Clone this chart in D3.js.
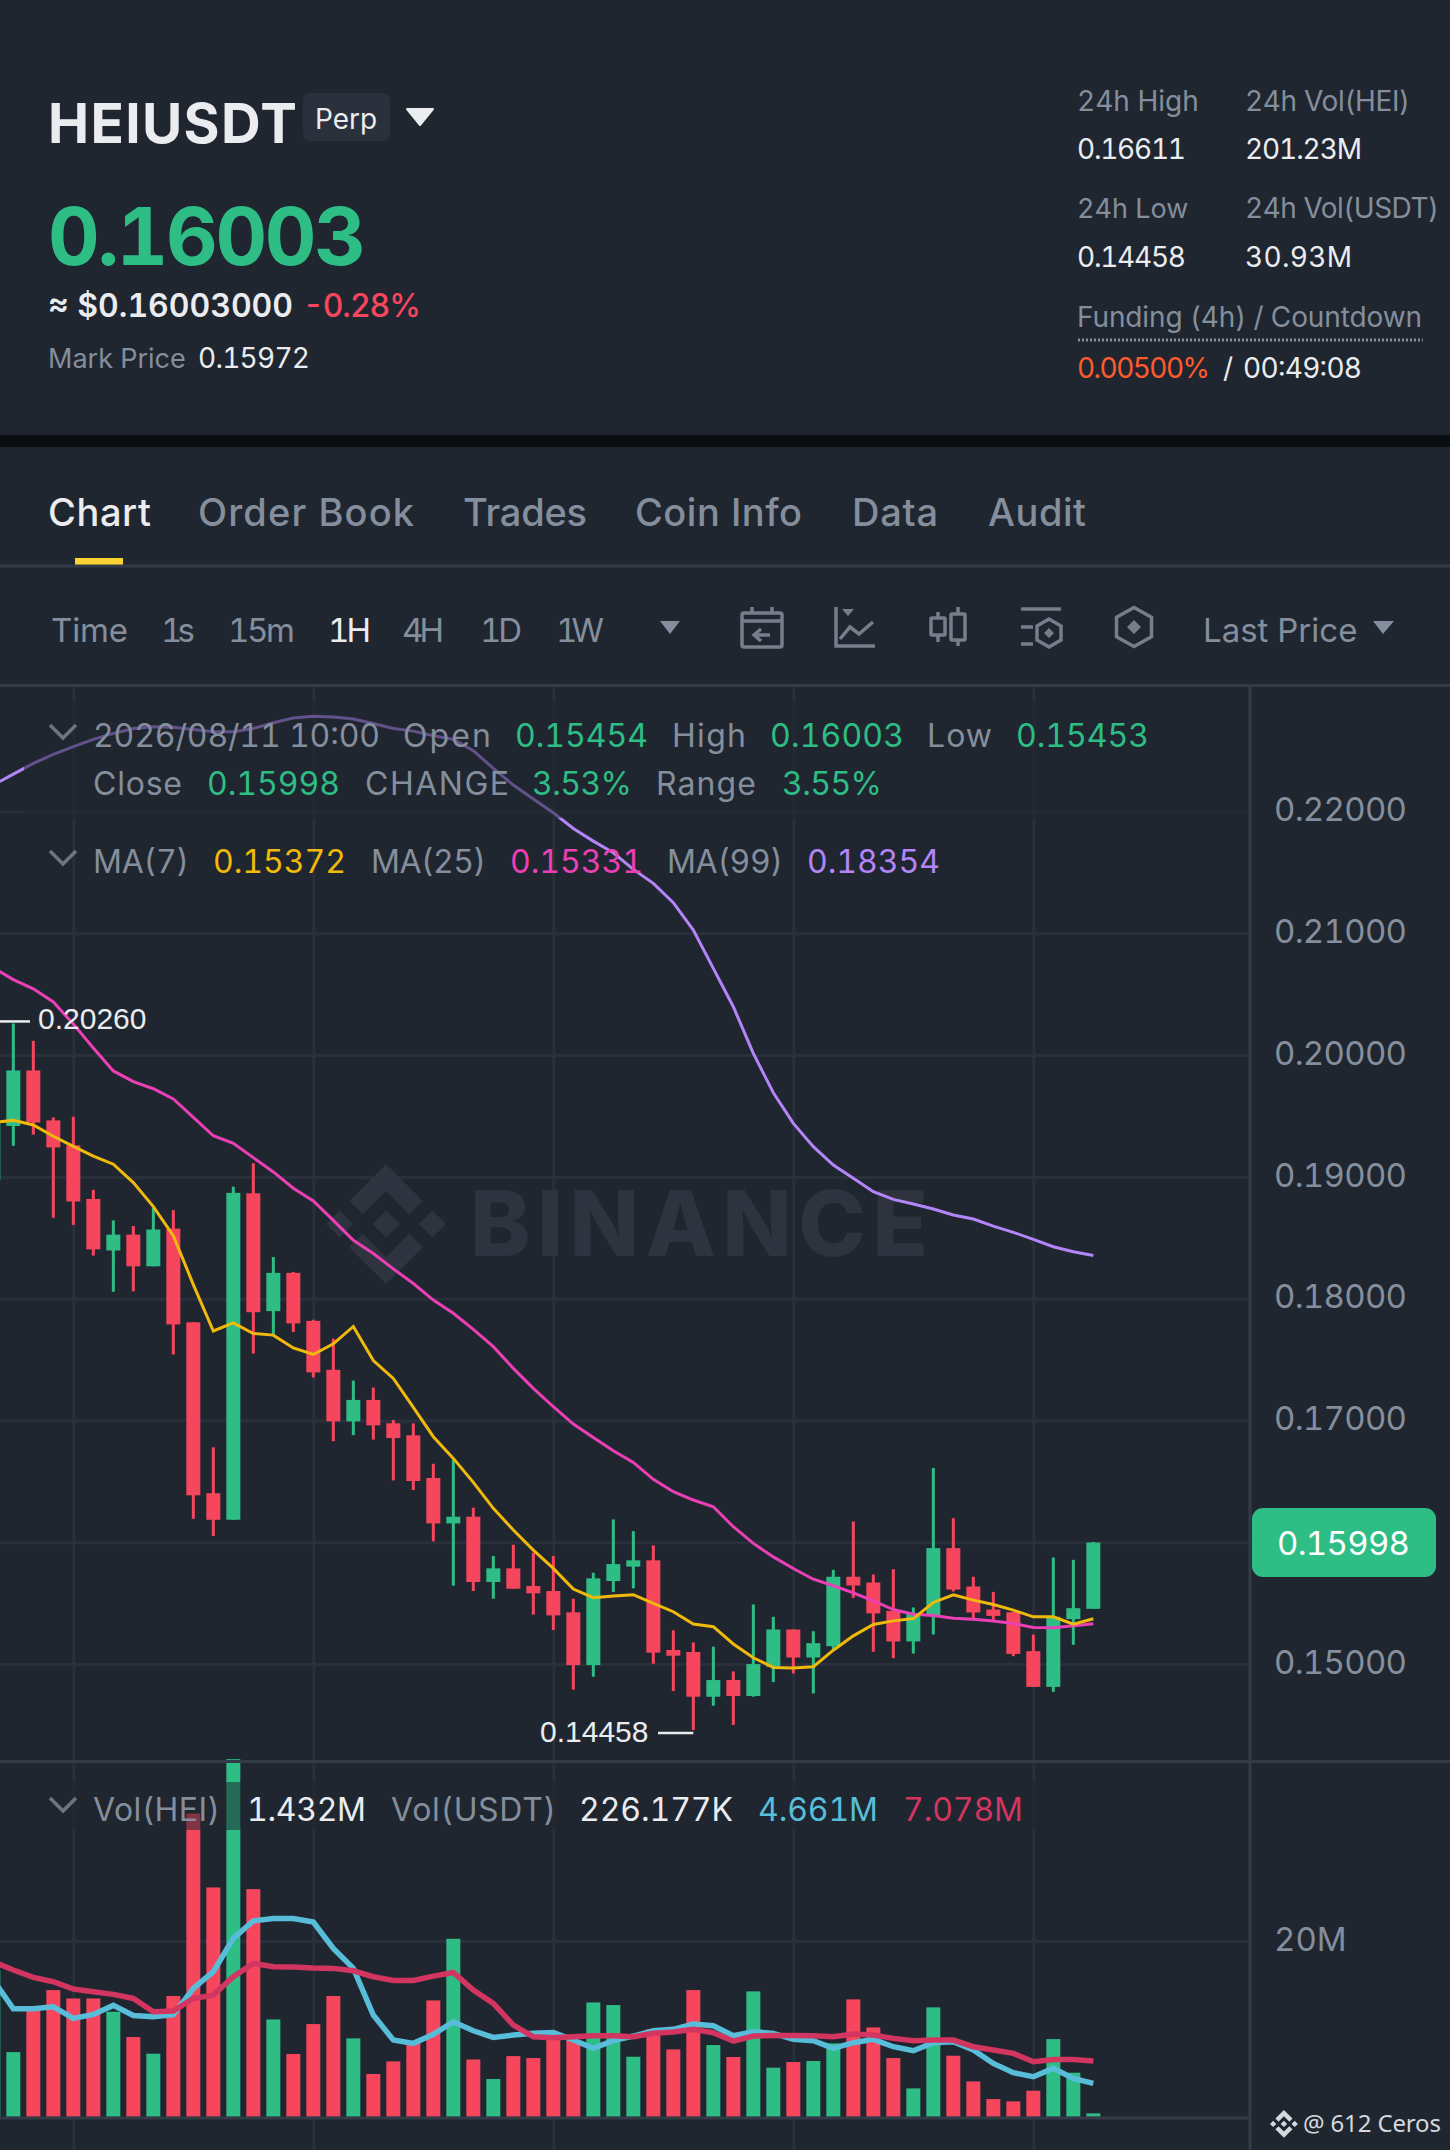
<!DOCTYPE html>
<html>
<head>
<meta charset="utf-8">
<script src="https://cdn.jsdelivr.net/npm/d3@7"></script>
<style>
  html, body { margin: 0; padding: 0; background: #1f2630; }
  svg { display: block; }
  text { font-family: Inter, "Noto Sans", sans-serif; font-variant-numeric: tabular-nums; }
</style>
</head>
<body>
<svg width="1450" height="2150"></svg>
<script>
// candles, left to right (first one is cut off by the left edge)
var opens = [0.1897,0.19418,0.19874,0.19464,0.19259,0.18819,0.18396,0.18526,0.18266,0.18576,0.17806,0.16403,0.16185,0.18865,0.17898,0.18212,0.17818,0.17416,0.16993,0.17169,0.16977,0.16878,0.16528,0.16155,0.1621,0.15674,0.15786,0.15641,0.156,0.15425,0.14992,0.15682,0.158,0.15852,0.15116,0.15099,0.14732,0.14869,0.14738,0.14978,0.15284,0.15054,0.15147,0.15717,0.1567,0.15437,0.15186,0.15402,0.15952,0.15637,0.15448,0.15426,0.15106,0.14813,0.15369,0.15454];
var highs = [0.1944,0.2026,0.20117,0.19489,0.19493,0.18894,0.18643,0.18597,0.18748,0.18727,0.17806,0.1678,0.1892,0.19112,0.18342,0.1822,0.17827,0.17672,0.17328,0.1727,0.17004,0.16976,0.16645,0.16675,0.16284,0.15887,0.1598,0.15915,0.15887,0.15537,0.1575,0.16188,0.16092,0.15975,0.15277,0.15178,0.15143,0.1494,0.1549,0.15388,0.15284,0.1527,0.15774,0.16171,0.15736,0.15779,0.15465,0.16611,0.16198,0.15717,0.15593,0.15429,0.15243,0.15875,0.15856,0.16003];
var lows = [0.1897,0.19255,0.19347,0.18664,0.18606,0.18354,0.18057,0.18061,0.18266,0.17542,0.16193,0.16051,0.16185,0.1755,0.17701,0.17726,0.17353,0.1683,0.1688,0.16843,0.16508,0.16429,0.16008,0.15644,0.156,0.15537,0.15619,0.15406,0.1528,0.1479,0.14896,0.15592,0.15622,0.15003,0.14779,0.14458,0.14658,0.145,0.14732,0.14852,0.14923,0.14759,0.15115,0.15544,0.15101,0.15049,0.15087,0.15243,0.15596,0.15361,0.15361,0.15065,0.14813,0.14772,0.15158,0.15453];
var closes = [0.1944,0.19874,0.19447,0.19242,0.18798,0.18405,0.18526,0.18266,0.18568,0.17789,0.16386,0.16185,0.18869,0.17889,0.18212,0.17797,0.17395,0.16993,0.17169,0.1696,0.16856,0.16503,0.16155,0.1621,0.15674,0.15786,0.15619,0.15581,0.154,0.14992,0.15704,0.15821,0.15852,0.15094,0.15069,0.14732,0.14869,0.14738,0.15,0.15284,0.15054,0.15172,0.15717,0.15645,0.15416,0.15186,0.15416,0.15952,0.15612,0.15424,0.15396,0.15084,0.14813,0.15388,0.15459,0.15998];

var ma7 = [0.19447,0.19464,0.19426,0.19334,0.1925,0.19171,0.19104,0.18953,0.18756,0.18518,0.18116,0.17735,0.17802,0.17714,0.17701,0.17596,0.17542,0.1763,0.17772,0.17492,0.17345,0.17108,0.16867,0.16689,0.16492,0.16279,0.16101,0.15936,0.15786,0.15616,0.15545,0.15559,0.1557,0.15499,0.1543,0.15329,0.15307,0.15165,0.15052,0.14973,0.14967,0.14978,0.15114,0.15232,0.15325,0.15355,0.15374,0.15506,0.15569,0.15525,0.15489,0.15443,0.15388,0.15388,0.15328,0.15372];
var ma25 = [0.20716,0.2062,0.20544,0.20436,0.20255,0.20059,0.1987,0.19782,0.19724,0.1964,0.19489,0.19338,0.19276,0.19158,0.19041,0.18907,0.18802,0.18643,0.1848,0.18371,0.18245,0.18125,0.17989,0.1788,0.17748,0.17606,0.17428,0.17264,0.17113,0.16971,0.16861,0.16752,0.16656,0.16517,0.16415,0.16347,0.16292,0.16128,0.15991,0.1588,0.15785,0.15697,0.15643,0.15585,0.1552,0.15448,0.1541,0.15399,0.15377,0.15369,0.15353,0.15333,0.15301,0.15298,0.15314,0.15331];
var ma99 = [0.22217,0.22307,0.22395,0.22469,0.22532,0.22592,0.22641,0.22682,0.22696,0.22691,0.22674,0.22655,0.22655,0.22682,0.22729,0.22767,0.22781,0.22775,0.22759,0.22723,0.22682,0.2266,0.22622,0.22592,0.22499,0.22354,0.22217,0.22102,0.2199,0.21861,0.21757,0.21661,0.21525,0.2141,0.21251,0.21026,0.20712,0.20397,0.20014,0.19691,0.19439,0.19248,0.19097,0.18988,0.18878,0.18815,0.18777,0.18736,0.18687,0.18654,0.18596,0.18545,0.18487,0.18427,0.18386,0.18354];

// volume in millions
var volumes = [16.87,8.03,12.56,14.71,13.81,13.81,12.38,9.65,7.86,14.07,33.74,25.77,39.59,25.59,11.55,7.82,11.05,14.07,9.51,5.67,7.03,9.15,13.6,20.24,7.24,5.13,7.6,7.39,9.69,9.33,13.38,13.1,7.53,10.48,8.32,14.71,8.79,7.5,14.57,6.35,6.96,7.07,8.97,13.71,10.69,7.39,4.12,12.85,7.64,4.87,2.97,2.72,3.87,9.43,5.81,1.43];
var volMa5 = [15.79,12.7,12.7,12.92,11.66,12.09,13.06,11.98,11.84,12.06,14.89,16.69,20.28,22.18,22.43,22.43,22.04,19.2,17.05,12.02,9.33,8.97,9.94,11.3,10.33,9.61,9.87,10.05,10.15,9.33,8.43,9.26,9.76,10.33,10.48,11.05,10.87,9.79,10.22,10.05,9.4,9.26,8.43,9.04,9.4,8.61,8.18,9.04,9.15,8.25,6.81,5.81,5.38,6.28,5.2,4.66];
var volMa10 = [17.76,16.87,16.08,15.61,14.82,14.53,14.25,13.81,12.38,12.45,13.81,14.17,16.15,17.58,17.22,17.19,17.08,17.05,16.79,16.15,15.75,15.75,16.22,16.61,14.71,13.28,10.94,9.69,9.58,9.69,9.79,9.79,9.69,10.05,10.19,10.48,10.12,9.22,9.76,9.83,9.83,9.79,9.69,9.97,9.87,9.51,9.26,9.33,9.33,8.61,8.25,7.89,6.99,7.24,7.24,7.08];

var priceTicks = [0.22, 0.21, 0.20, 0.19, 0.18, 0.17, 0.16, 0.15];
var volTicks = [20];
var timeTicks = [4, 16, 28, 40, 52];
var lastPrice = 0.15998;
var highMark = 0.2026, highIndex = 1;
var lowMark = 0.14458, lowIndex = 35;

var tabs = ["Chart", "Order Book", "Trades", "Coin Info", "Data", "Audit"];
var intervals = ["Time", "1s", "15m", "1H", "4H", "1D", "1W"];

var GREEN = "#2ebd85", RED = "#f6465d", GREY = "#848e9c", WHITE = "#eaecef",
    BG = "#1f2630", GRID = "#2a303b", RULE = "#343b48", ICON = "#777e8b",
    YELLOW = "#f0b90b", PINK = "#eb40b5", PURPLE = "#b385f8", BLUE = "#58bdd8", CRIMSON = "#d2355f";

var svg = d3.select("svg");
var N = opens.length;

svg.append("rect").attr("width", 1450).attr("height", 2150).attr("fill", BG);

var x = d3.scaleLinear().domain([0, N - 1]).range([-6.67, 1093.33]);
var y = d3.scaleLinear().domain([0.15, 0.22]).range([1664.1, 811.5]);
var yVol = d3.scaleLinear().domain([1.07, 20]).range([2116.7, 1941]);

// width, when given, stretches the text to what the picture shows
function label(g, tx, ty, str, size, fill, weight, width) {
    var t = g.append("text").attr("x", tx).attr("y", ty).attr("font-size", size)
        .attr("fill", fill).attr("font-weight", weight || 400).text(str);
    if (width) t.attr("textLength", width).attr("lengthAdjust", "spacing");
    return t;
}

// header
var head = svg.append("g");
label(head, 48, 143, "HEIUSDT", 55, WHITE, 700, 249);
head.append("rect").attr("x", 303).attr("y", 93).attr("width", 87).attr("height", 48).attr("rx", 7).attr("fill", "#2b313c");
label(head, 315, 129, "Perp", 28, WHITE);
head.append("path").attr("d", "M407,109 L433,109 L420,125 Z").attr("fill", WHITE).attr("stroke", WHITE).attr("stroke-linejoin", "round").attr("stroke-width", 2);
label(head, 48, 265, "0.16003", 80, GREEN, 700, 318);
label(head, 48, 317, "≈ $0.16003000", 32, WHITE, 600, 245);
label(head, 303, 317, "-0.28%", 32, RED, 500, 118);
label(head, 48, 368, "Mark Price", 27, GREY);
label(head, 198, 368, "0.15972", 28, WHITE, 400, 112);

label(head, 1077, 111, "24h High", 28, GREY);
label(head, 1245, 111, "24h Vol(HEI)", 28, GREY, 400, 165);
label(head, 1077, 159, "0.16611", 28, WHITE, 400, 109);
label(head, 1245, 159, "201.23M", 28, WHITE, 400, 117);
label(head, 1077, 218, "24h Low", 27, GREY);
label(head, 1245, 218, "24h Vol(USDT)", 28, GREY, 400, 194);
label(head, 1077, 267, "0.14458", 28, WHITE, 400, 109);
label(head, 1245, 267, "30.93M", 28, WHITE, 400, 107);
label(head, 1077, 327, "Funding (4h) / Countdown", 28, GREY, 400, 345);
head.append("line").attr("x1", 1078).attr("x2", 1423).attr("y1", 340).attr("y2", 340)
    .attr("stroke", GREY).attr("stroke-width", 3).attr("stroke-dasharray", "2 2");
label(head, 1077, 378, "0.00500%", 28, "#ff5a2c", 400, 133);
label(head, 1223, 378, "/", 28, WHITE);
label(head, 1243, 378, "00:49:08", 28, WHITE, 400, 119);

svg.append("rect").attr("x", 0).attr("y", 435).attr("width", 1450).attr("height", 12).attr("fill", "#0b0e11");

// tabs
var tabX = [48, 198, 463, 635, 852, 988];
var tabW = [103, 216, 124, 167, 86, 98];
svg.append("g").selectAll("text").data(tabs).join("text")
    .attr("x", (d, i) => tabX[i]).attr("y", 526).attr("font-size", 38).attr("font-weight", 500)
    .attr("textLength", (d, i) => tabW[i]).attr("lengthAdjust", "spacing")
    .attr("fill", (d, i) => i == 0 ? WHITE : GREY).text(d => d);
svg.append("rect").attr("x", 75).attr("y", 558).attr("width", 48).attr("height", 8).attr("fill", "#fcd535");
svg.append("line").attr("x1", 0).attr("x2", 1450).attr("y1", 566).attr("y2", 566).attr("stroke", RULE).attr("stroke-width", 3);

// interval row
var intX = [51, 161, 228, 328, 402, 480, 556];
var intW = [77, 34, 67, 43, 42, 42, 48];
svg.append("g").selectAll("text").data(intervals).join("text")
    .attr("x", (d, i) => intX[i]).attr("y", 642).attr("font-size", 33)
    .attr("textLength", (d, i) => intW[i]).attr("lengthAdjust", "spacing")
    .attr("fill", d => d == "1H" ? WHITE : GREY).text(d => d);
label(svg, 1203, 642, "Last Price", 33, GREY);
svg.append("path").attr("d", "M660,621 L680,621 L670,634 Z M1373,621 L1394,621 L1383,634 Z").attr("fill", GREY);

// toolbar icons
var icons = svg.append("g").attr("fill", "none").attr("stroke", ICON).attr("stroke-width", 3.5);
icons.append("rect").attr("x", 742).attr("y", 613).attr("width", 40).attr("height", 34).attr("rx", 2);
icons.append("path").attr("d", "M742,621 H782 M752,607 V613 M772,607 V613 M770,635 H755 M761,629 L754,635 L761,641");
icons.append("path").attr("d", "M836,607 V646 H875 M840,639 L850,627 L859,634 L873,622");
icons.append("path").attr("d", "M842,609 H854 L848,616 Z").attr("fill", ICON).attr("stroke", "none");
icons.append("rect").attr("x", 931).attr("y", 618).attr("width", 14).attr("height", 17).attr("rx", 1);
icons.append("rect").attr("x", 951).attr("y", 614).attr("width", 14).attr("height", 26).attr("rx", 1);
icons.append("path").attr("d", "M938,612 V618 M938,635 V642 M958,607 V614 M958,640 V646");
icons.append("path").attr("d", "M1021,609 H1061 M1021,627 H1033 M1021,644 H1033");
function hex(cx, cy, w, r) {
    return [[0, -r], [w, -r / 2], [w, r / 2], [0, r], [-w, r / 2], [-w, -r / 2]]
        .map(p => (cx + p[0]) + "," + (cy + p[1])).join(" ");
}
icons.append("polygon").attr("points", hex(1049, 633, 12, 14));
icons.append("polygon").attr("points", hex(1134, 627, 17.5, 19.5));
icons.append("path").attr("fill", ICON).attr("stroke", "none")
    .attr("d", "M1049,628 l5,5 l-5,5 l-5,-5 Z M1134,620 l7,7 l-7,7 l-7,-7 Z");

svg.append("line").attr("x1", 0).attr("x2", 1450).attr("y1", 685.5).attr("y2", 685.5).attr("stroke", RULE).attr("stroke-width", 3);

// grid
var grid = svg.append("g");
grid.append("g").attr("transform", "translate(0,687)")
    .call(d3.axisBottom(x).tickValues(timeTicks).tickSize(1463).tickFormat(""));
grid.append("g").attr("transform", "translate(1250,0)")
    .call(d3.axisLeft(y).tickValues(priceTicks).tickSize(1250).tickFormat(""));
grid.append("g").attr("transform", "translate(1250,0)")
    .call(d3.axisLeft(yVol).tickValues(volTicks).tickSize(1250).tickFormat(""));
grid.selectAll(".domain").remove();
grid.selectAll("line").attr("stroke", GRID).attr("stroke-width", 3);

// watermark
var mark = "M38.73 53.2l24.59-24.58 24.6 24.6 14.3-14.31L63.32 0 24.42 38.9l14.31 14.3zM0 63.31l14.3-14.31 14.31 14.31-14.31 14.3zM38.73 73.41l24.59 24.59 24.6-24.6 14.31 14.29-38.9 38.91-38.91-38.88v-.03l14.31-14.28zM98.01 63.31l14.3-14.3 14.3 14.3-14.3 14.3zM77.83 63.3L63.32 48.78 52.59 59.51l-1.24 1.23-2.54 2.54 14.51 14.5 14.51-14.51v-.01z";
svg.append("path").attr("d", mark).attr("fill", "#2e333f").attr("transform", "translate(326,1164) scale(0.948)");
svg.append("text").attr("x", 470).attr("y", 1256).attr("font-size", 91).attr("font-weight", 800)
    .attr("fill", "#2e333f").attr("textLength", 458).attr("lengthAdjust", "spacing").text("BINANCE");

// volume bars
var colour = d3.range(N).map(i => closes[i] >= opens[i] ? GREEN : RED);
svg.append("g").selectAll("rect").data(volumes).join("rect")
    .attr("x", (d, i) => x(i) - 7).attr("width", 14)
    .attr("y", d => yVol(d)).attr("height", d => yVol(yVol.domain()[0]) - yVol(d))
    .attr("fill", (d, i) => colour[i]);

var volLine = d3.line().x((d, i) => x(i)).y(d => yVol(d));
svg.append("path").datum(volMa5).attr("d", volLine).attr("fill", "none").attr("stroke", BLUE).attr("stroke-width", 5.5);
svg.append("path").datum(volMa10).attr("d", volLine).attr("fill", "none").attr("stroke", CRIMSON).attr("stroke-width", 5.5);

// candles
var candles = svg.append("g");
candles.selectAll("line").data(d3.range(N)).join("line")
    .attr("x1", i => x(i)).attr("x2", i => x(i))
    .attr("y1", i => y(highs[i])).attr("y2", i => y(lows[i]))
    .attr("stroke", i => colour[i]).attr("stroke-width", 3);
candles.selectAll("rect").data(d3.range(N)).join("rect")
    .attr("x", i => x(i) - 7).attr("width", 14)
    .attr("y", i => y(Math.max(opens[i], closes[i])))
    .attr("height", i => Math.abs(y(opens[i]) - y(closes[i])))
    .attr("fill", i => colour[i]);

// moving averages
var priceLine = d3.line().x((d, i) => x(i)).y(d => y(d));
svg.append("path").datum(ma99).attr("d", priceLine).attr("fill", "none").attr("stroke", PURPLE).attr("stroke-width", 3);
svg.append("path").datum(ma25).attr("d", priceLine).attr("fill", "none").attr("stroke", PINK).attr("stroke-width", 3);
svg.append("path").datum(ma7).attr("d", priceLine).attr("fill", "none").attr("stroke", YELLOW).attr("stroke-width", 3);

// high and low markers
var canvasFont = "Liberation Sans, Arial, sans-serif";
svg.append("line").attr("x1", 0).attr("x2", 30).attr("y1", y(highMark) - 2).attr("y2", y(highMark) - 2).attr("stroke", WHITE).attr("stroke-width", 2.5);
label(svg, 38, y(highMark) + 6, d3.format(".5f")(highMark), 30, WHITE).style("font-family", canvasFont);
svg.append("line").attr("x1", 658).attr("x2", x(lowIndex)).attr("y1", y(lowMark) + 3).attr("y2", y(lowMark) + 3).attr("stroke", WHITE).attr("stroke-width", 2.5);
label(svg, 540, y(lowMark) + 12, d3.format(".5f")(lowMark), 30, WHITE).style("font-family", canvasFont);

// pane separators
svg.append("line").attr("x1", 0).attr("x2", 1450).attr("y1", 1761.5).attr("y2", 1761.5).attr("stroke", RULE).attr("stroke-width", 3);
svg.append("line").attr("x1", 0).attr("x2", 1250).attr("y1", 2118).attr("y2", 2118).attr("stroke", RULE).attr("stroke-width", 3);
svg.append("line").attr("x1", 1250).attr("x2", 1250).attr("y1", 687).attr("y2", 2150).attr("stroke", RULE).attr("stroke-width", 3);

// legend backings dim what runs behind the text
svg.append("rect").attr("x", 24).attr("y", 702).attr("width", 1224).attr("height", 116).attr("fill", BG).attr("opacity", 0.55);
svg.append("rect").attr("x", 42).attr("y", 1782).attr("width", 1206).attr("height", 48).attr("fill", BG).attr("opacity", 0.55);

// legends
var chevrons = "M50,725 L63,738 L76,725 M50,851 L63,864 L76,851 M50,1798 L63,1811 L76,1798";
svg.append("path").attr("d", chevrons).attr("fill", "none").attr("stroke", "#6d7482").attr("stroke-width", 3.5);

var legend = svg.append("g");
[
    [93, 747, "2026/08/11 10:00", GREY, 287], [403, 747, "Open", GREY, 88], [515, 747, "0.15454", GREEN, 133],
    [672, 747, "High", GREY, 74], [770, 747, "0.16003", GREEN, 134], [927, 747, "Low", GREY, 65], [1016, 747, "0.15453", GREEN, 133],
    [93, 795, "Close", GREY, 89], [207, 795, "0.15998", GREEN, 133], [365, 795, "CHANGE", GREY, 144], [532, 795, "3.53%", GREEN, 100],
    [656, 795, "Range", GREY, 100], [782, 795, "3.55%", GREEN, 100],
    [93, 873, "MA(7)", GREY, 96], [213, 873, "0.15372", YELLOW, 133], [371, 873, "MA(25)", GREY, 115], [510, 873, "0.15331", PINK, 133],
    [667, 873, "MA(99)", GREY, 116], [807, 873, "0.18354", PURPLE, 133],
    [93, 1821, "Vol(HEI)", GREY, 127], [247, 1821, "1.432M", WHITE, 119], [391, 1821, "Vol(USDT)", GREY, 165], [579, 1821, "226.177K", WHITE, 154],
    [758, 1821, "4.661M", BLUE, 120], [903, 1821, "7.078M", CRIMSON, 120]
].forEach(r => label(legend, r[0], r[1], r[2], 32, r[3], 400, r[4]));

// right axis
var axisP = svg.append("g").attr("transform", "translate(1274,0)")
    .call(d3.axisRight(y).tickValues(priceTicks).tickSize(0).tickPadding(0).tickFormat(d3.format(".5f")));
var axisV = svg.append("g").attr("transform", "translate(1274,0)")
    .call(d3.axisRight(yVol).tickValues(volTicks).tickSize(0).tickPadding(0).tickFormat(d => d + "M"));
[axisP, axisV].forEach(a => {
    a.select(".domain").remove();
    a.selectAll("text").attr("font-size", 33).attr("fill", GREY).attr("dy", "0.28em").style("font-family", "Inter");
});
axisP.selectAll("text").attr("textLength", 133).attr("lengthAdjust", "spacing");

// last price tag
svg.append("rect").attr("x", 1252).attr("y", y(lastPrice) - 34.5).attr("width", 184).attr("height", 69).attr("rx", 11).attr("fill", GREEN);
label(svg, 1277, y(lastPrice) + 12, d3.format(".5f")(lastPrice), 33, "#fff", 400, 133);

// corner tag
svg.append("path").attr("d", mark).attr("fill", "#d5d9dd").attr("transform", "translate(1270,2110) scale(0.22)");
label(svg, 1303, 2132, "@ 612 Ceros", 24, "#d5d9dd", 400, 138).style("font-family", "Noto Sans");
</script>
</body>
</html>
